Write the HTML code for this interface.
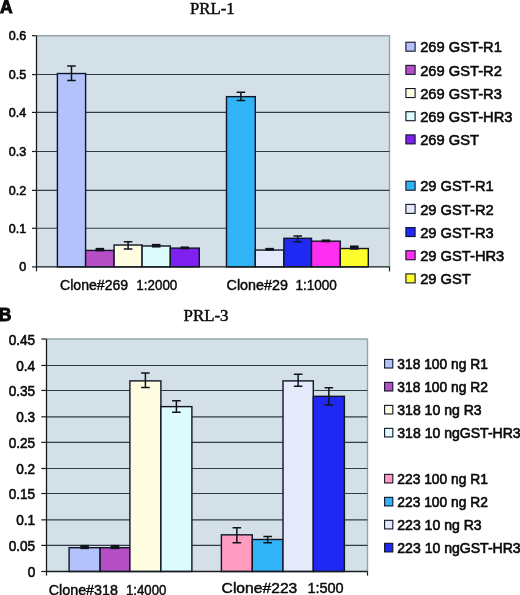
<!DOCTYPE html>
<html><head><meta charset="utf-8"><title>PRL figure</title>
<style>
html,body{margin:0;padding:0;background:#fff;}
body{width:520px;height:595px;overflow:hidden;}
svg{display:block;}
.s{font-family:"Liberation Sans",Arial,Helvetica,sans-serif;fill:#0a0a0a;stroke:#0a0a0a;stroke-width:0.6px;}
.x{font-family:"Liberation Sans",Arial,Helvetica,sans-serif;fill:#0a0a0a;stroke:#0a0a0a;stroke-width:0.45px;}
.t{font-family:"Liberation Serif","Times New Roman",serif;fill:#0a0a0a;stroke:#0a0a0a;stroke-width:0.45px;}
</style></head>
<body>
<svg width="520" height="595" viewBox="0 0 520 595">
<rect width="520" height="595" fill="#fff"/>
<rect x="36.5" y="35.7" width="353" height="231.2" fill="#d4e0e8"/>
<path d="M36.5 35.7H389.5V266.9" fill="none" stroke="#97a3ab" stroke-width="1.4"/>
<line x1="36.5" y1="228.3" x2="389.5" y2="228.3" stroke="#2e3c46" stroke-width="1.1"/>
<line x1="36.5" y1="190.4" x2="389.5" y2="190.4" stroke="#2e3c46" stroke-width="1.1"/>
<line x1="36.5" y1="151.5" x2="389.5" y2="151.5" stroke="#2e3c46" stroke-width="1.1"/>
<line x1="36.5" y1="112.4" x2="389.5" y2="112.4" stroke="#2e3c46" stroke-width="1.1"/>
<line x1="36.5" y1="74.55" x2="389.5" y2="74.55" stroke="#2e3c46" stroke-width="1.1"/>
<rect x="57.4" y="73.53" width="28.2" height="193.37" fill="#b3c2fb" stroke="#101526" stroke-width="1.4"/>
<rect x="85.6" y="250.43" width="28.5" height="16.47" fill="#b64ec6" stroke="#101526" stroke-width="1.4"/>
<rect x="114.1" y="245.03" width="28" height="21.87" fill="#fefde2" stroke="#101526" stroke-width="1.4"/>
<rect x="142.1" y="246" width="28.2" height="20.9" fill="#dcfcfe" stroke="#101526" stroke-width="1.4"/>
<rect x="170.3" y="248.12" width="29" height="18.78" fill="#7e20f0" stroke="#101526" stroke-width="1.4"/>
<rect x="226.5" y="96.65" width="28.8" height="170.25" fill="#31b3f8" stroke="#101526" stroke-width="1.4"/>
<rect x="255.3" y="250.04" width="28.6" height="16.86" fill="#e5eafb" stroke="#101526" stroke-width="1.4"/>
<rect x="283.9" y="238.29" width="27.6" height="28.61" fill="#2029f4" stroke="#101526" stroke-width="1.4"/>
<rect x="311.5" y="241.18" width="28.8" height="25.72" fill="#ff2ef0" stroke="#101526" stroke-width="1.4"/>
<rect x="340.3" y="248.5" width="28" height="18.4" fill="#fefe2c" stroke="#101526" stroke-width="1.4"/>
<path d="M67.2 66H75.8M71.5 66V80.5M67.2 80.5H75.8" stroke="#10141a" stroke-width="1.5" fill="none"/>
<rect x="95.55" y="247.85" width="8.6" height="3.5" fill="#10141a"/>
<path d="M123.8 241.8H132.4M128.1 241.8V249.1M123.8 249.1H132.4" stroke="#10141a" stroke-width="1.5" fill="none"/>
<rect x="151.9" y="243.85" width="8.6" height="3.7" fill="#10141a"/>
<rect x="180.5" y="246.45" width="8.6" height="2.9" fill="#10141a"/>
<path d="M236.6 92.3H245.2M240.9 92.3V100.5M236.6 100.5H245.2" stroke="#10141a" stroke-width="1.5" fill="none"/>
<rect x="265.3" y="247.85" width="8.6" height="2.9" fill="#10141a"/>
<path d="M293.4 236H302M297.7 236V241.7M293.4 241.7H302" stroke="#10141a" stroke-width="1.5" fill="none"/>
<rect x="321.6" y="239.45" width="8.6" height="2.9" fill="#10141a"/>
<rect x="350" y="245.45" width="8.6" height="4.3" fill="#10141a"/>
<path d="M36.5 35.7V266.9H389.5" fill="none" stroke="#161c22" stroke-width="1.3"/>
<line x1="32" y1="35.7" x2="36.5" y2="35.7" stroke="#161c22" stroke-width="1.2"/>
<line x1="32" y1="74.55" x2="36.5" y2="74.55" stroke="#161c22" stroke-width="1.2"/>
<line x1="32" y1="112.4" x2="36.5" y2="112.4" stroke="#161c22" stroke-width="1.2"/>
<line x1="32" y1="151.5" x2="36.5" y2="151.5" stroke="#161c22" stroke-width="1.2"/>
<line x1="32" y1="190.4" x2="36.5" y2="190.4" stroke="#161c22" stroke-width="1.2"/>
<line x1="32" y1="228.3" x2="36.5" y2="228.3" stroke="#161c22" stroke-width="1.2"/>
<line x1="32" y1="266.9" x2="36.5" y2="266.9" stroke="#161c22" stroke-width="1.2"/>
<line x1="36.5" y1="266.9" x2="36.5" y2="271.4" stroke="#161c22" stroke-width="1.2"/>
<line x1="389.5" y1="266.9" x2="389.5" y2="271.4" stroke="#161c22" stroke-width="1.2"/>
<text x="26.2" y="271.2" text-anchor="end" font-size="12.5" class="s">0</text>
<text x="26.2" y="232.6" text-anchor="end" font-size="12.5" class="s">0.1</text>
<text x="26.2" y="194.7" text-anchor="end" font-size="12.5" class="s">0.2</text>
<text x="26.2" y="155.8" text-anchor="end" font-size="12.5" class="s">0.3</text>
<text x="26.2" y="116.7" text-anchor="end" font-size="12.5" class="s">0.4</text>
<text x="26.2" y="78.85" text-anchor="end" font-size="12.5" class="s">0.5</text>
<text x="26.2" y="40" text-anchor="end" font-size="12.5" class="s">0.6</text>
<rect x="46.5" y="339" width="321" height="232.5" fill="#d4e0e8"/>
<path d="M46.5 339H367.5V571.5" fill="none" stroke="#97a3ab" stroke-width="1.4"/>
<line x1="46.5" y1="545.4" x2="367.5" y2="545.4" stroke="#2e3c46" stroke-width="1.1"/>
<line x1="46.5" y1="519.85" x2="367.5" y2="519.85" stroke="#2e3c46" stroke-width="1.1"/>
<line x1="46.5" y1="493.5" x2="367.5" y2="493.5" stroke="#2e3c46" stroke-width="1.1"/>
<line x1="46.5" y1="468.5" x2="367.5" y2="468.5" stroke="#2e3c46" stroke-width="1.1"/>
<line x1="46.5" y1="442.35" x2="367.5" y2="442.35" stroke="#2e3c46" stroke-width="1.1"/>
<line x1="46.5" y1="416.85" x2="367.5" y2="416.85" stroke="#2e3c46" stroke-width="1.1"/>
<line x1="46.5" y1="390.45" x2="367.5" y2="390.45" stroke="#2e3c46" stroke-width="1.1"/>
<line x1="46.5" y1="365.45" x2="367.5" y2="365.45" stroke="#2e3c46" stroke-width="1.1"/>
<rect x="69.1" y="547.71" width="31" height="23.79" fill="#b3c2fb" stroke="#101526" stroke-width="1.4"/>
<rect x="100.1" y="547.71" width="29.8" height="23.79" fill="#b64ec6" stroke="#101526" stroke-width="1.4"/>
<rect x="129.9" y="380.89" width="31" height="190.61" fill="#fefde2" stroke="#101526" stroke-width="1.4"/>
<rect x="160.9" y="406.63" width="31" height="164.87" fill="#dcfcfe" stroke="#101526" stroke-width="1.4"/>
<rect x="221.4" y="534.84" width="30.9" height="36.66" fill="#ff9cc0" stroke="#101526" stroke-width="1.4"/>
<rect x="252.3" y="539.48" width="30.7" height="32.02" fill="#31b3f8" stroke="#101526" stroke-width="1.4"/>
<rect x="283" y="380.89" width="30.3" height="190.61" fill="#e5eafb" stroke="#101526" stroke-width="1.4"/>
<rect x="313.3" y="396.33" width="31.1" height="175.17" fill="#2029f4" stroke="#101526" stroke-width="1.4"/>
<rect x="80.3" y="544.85" width="8.6" height="4.3" fill="#10141a"/>
<rect x="110.7" y="544.85" width="8.6" height="4.3" fill="#10141a"/>
<path d="M141.1 373.1H149.7M145.4 373.1V387.4M141.1 387.4H149.7" stroke="#10141a" stroke-width="1.5" fill="none"/>
<path d="M172.1 400.8H180.7M176.4 400.8V412.3M172.1 412.3H180.7" stroke="#10141a" stroke-width="1.5" fill="none"/>
<path d="M232.55 527.7H241.15M236.85 527.7V542.8M232.55 542.8H241.15" stroke="#10141a" stroke-width="1.5" fill="none"/>
<path d="M263.35 536.5H271.95M267.65 536.5V542.8M263.35 542.8H271.95" stroke="#10141a" stroke-width="1.5" fill="none"/>
<path d="M293.85 374.2H302.45M298.15 374.2V386.2M293.85 386.2H302.45" stroke="#10141a" stroke-width="1.5" fill="none"/>
<path d="M324.55 387.7H333.15M328.85 387.7V404.9M324.55 404.9H333.15" stroke="#10141a" stroke-width="1.5" fill="none"/>
<path d="M46.5 339V571.5H367.5" fill="none" stroke="#161c22" stroke-width="1.3"/>
<line x1="41.3" y1="339" x2="46.5" y2="339" stroke="#161c22" stroke-width="1.2"/>
<line x1="41.3" y1="365.45" x2="46.5" y2="365.45" stroke="#161c22" stroke-width="1.2"/>
<line x1="41.3" y1="390.45" x2="46.5" y2="390.45" stroke="#161c22" stroke-width="1.2"/>
<line x1="41.3" y1="416.85" x2="46.5" y2="416.85" stroke="#161c22" stroke-width="1.2"/>
<line x1="41.3" y1="442.35" x2="46.5" y2="442.35" stroke="#161c22" stroke-width="1.2"/>
<line x1="41.3" y1="468.5" x2="46.5" y2="468.5" stroke="#161c22" stroke-width="1.2"/>
<line x1="41.3" y1="493.5" x2="46.5" y2="493.5" stroke="#161c22" stroke-width="1.2"/>
<line x1="41.3" y1="519.85" x2="46.5" y2="519.85" stroke="#161c22" stroke-width="1.2"/>
<line x1="41.3" y1="545.4" x2="46.5" y2="545.4" stroke="#161c22" stroke-width="1.2"/>
<line x1="41.3" y1="571.5" x2="46.5" y2="571.5" stroke="#161c22" stroke-width="1.2"/>
<line x1="46.5" y1="571.5" x2="46.5" y2="575.6" stroke="#161c22" stroke-width="1.2"/>
<line x1="367.5" y1="571.5" x2="367.5" y2="575.6" stroke="#161c22" stroke-width="1.2"/>
<text x="35.2" y="577" text-anchor="end" font-size="14.6" class="s" textLength="7.56" lengthAdjust="spacingAndGlyphs">0</text>
<text x="35.2" y="550.9" text-anchor="end" font-size="14.6" class="s" textLength="26.47" lengthAdjust="spacingAndGlyphs">0.05</text>
<text x="35.2" y="525.35" text-anchor="end" font-size="14.6" class="s" textLength="18.91" lengthAdjust="spacingAndGlyphs">0.1</text>
<text x="35.2" y="499" text-anchor="end" font-size="14.6" class="s" textLength="26.47" lengthAdjust="spacingAndGlyphs">0.15</text>
<text x="35.2" y="474" text-anchor="end" font-size="14.6" class="s" textLength="18.91" lengthAdjust="spacingAndGlyphs">0.2</text>
<text x="35.2" y="447.85" text-anchor="end" font-size="14.6" class="s" textLength="26.47" lengthAdjust="spacingAndGlyphs">0.25</text>
<text x="35.2" y="422.35" text-anchor="end" font-size="14.6" class="s" textLength="18.91" lengthAdjust="spacingAndGlyphs">0.3</text>
<text x="35.2" y="395.95" text-anchor="end" font-size="14.6" class="s" textLength="26.47" lengthAdjust="spacingAndGlyphs">0.35</text>
<text x="35.2" y="370.95" text-anchor="end" font-size="14.6" class="s" textLength="18.91" lengthAdjust="spacingAndGlyphs">0.4</text>
<text x="35.2" y="344.5" text-anchor="end" font-size="14.6" class="s" textLength="26.47" lengthAdjust="spacingAndGlyphs">0.45</text>
<rect x="405.9" y="42.2" width="9.2" height="9" fill="#b3c2fb" stroke="#101526" stroke-width="1.1"/>
<text x="420.2" y="52.4" font-size="14.7" class="s">269 GST-R1</text>
<rect x="405.9" y="65.37" width="9.2" height="9" fill="#b64ec6" stroke="#101526" stroke-width="1.1"/>
<text x="420.2" y="75.57" font-size="14.7" class="s">269 GST-R2</text>
<rect x="405.9" y="88.54" width="9.2" height="9" fill="#fefde2" stroke="#101526" stroke-width="1.1"/>
<text x="420.2" y="98.74" font-size="14.7" class="s">269 GST-R3</text>
<rect x="405.9" y="111.71" width="9.2" height="9" fill="#dcfcfe" stroke="#101526" stroke-width="1.1"/>
<text x="420.2" y="121.91" font-size="14.7" class="s">269 GST-HR3</text>
<rect x="405.9" y="134.88" width="9.2" height="9" fill="#7e20f0" stroke="#101526" stroke-width="1.1"/>
<text x="420.2" y="145.08" font-size="14.7" class="s">269 GST</text>
<rect x="405.9" y="181.22" width="9.2" height="9" fill="#31b3f8" stroke="#101526" stroke-width="1.1"/>
<text x="420.2" y="191.42" font-size="14.7" class="s">29 GST-R1</text>
<rect x="405.9" y="204.39" width="9.2" height="9" fill="#e5eafb" stroke="#101526" stroke-width="1.1"/>
<text x="420.2" y="214.59" font-size="14.7" class="s">29 GST-R2</text>
<rect x="405.9" y="227.56" width="9.2" height="9" fill="#2029f4" stroke="#101526" stroke-width="1.1"/>
<text x="420.2" y="237.76" font-size="14.7" class="s">29 GST-R3</text>
<rect x="405.9" y="250.73" width="9.2" height="9" fill="#ff2ef0" stroke="#101526" stroke-width="1.1"/>
<text x="420.2" y="260.93" font-size="14.7" class="s">29 GST-HR3</text>
<rect x="405.9" y="273.9" width="9.2" height="9" fill="#fefe2c" stroke="#101526" stroke-width="1.1"/>
<text x="420.2" y="284.1" font-size="14.7" class="s">29 GST</text>
<rect x="384.6" y="359.4" width="8.2" height="8.6" fill="#b3c2fb" stroke="#101526" stroke-width="1.1"/>
<text x="397.3" y="368.6" font-size="13.8" class="s">318 100 ng R1</text>
<rect x="384.6" y="382.39" width="8.2" height="8.6" fill="#b64ec6" stroke="#101526" stroke-width="1.1"/>
<text x="397.3" y="391.59" font-size="13.8" class="s">318 100 ng R2</text>
<rect x="384.6" y="405.38" width="8.2" height="8.6" fill="#fefde2" stroke="#101526" stroke-width="1.1"/>
<text x="397.3" y="414.58" font-size="13.8" class="s" textLength="84.3" lengthAdjust="spacingAndGlyphs">318 10 ng R3</text>
<rect x="384.6" y="428.37" width="8.2" height="8.6" fill="#dcfcfe" stroke="#101526" stroke-width="1.1"/>
<text x="397.3" y="437.57" font-size="13.8" class="s" textLength="123.4" lengthAdjust="spacingAndGlyphs">318 10 ngGST-HR3</text>
<rect x="384.6" y="474.35" width="8.2" height="8.6" fill="#ff9cc0" stroke="#101526" stroke-width="1.1"/>
<text x="397.3" y="483.55" font-size="13.8" class="s">223 100 ng R1</text>
<rect x="384.6" y="497.34" width="8.2" height="8.6" fill="#31b3f8" stroke="#101526" stroke-width="1.1"/>
<text x="397.3" y="506.54" font-size="13.8" class="s">223 100 ng R2</text>
<rect x="384.6" y="520.33" width="8.2" height="8.6" fill="#e5eafb" stroke="#101526" stroke-width="1.1"/>
<text x="397.3" y="529.53" font-size="13.8" class="s" textLength="84.3" lengthAdjust="spacingAndGlyphs">223 10 ng R3</text>
<rect x="384.6" y="543.32" width="8.2" height="8.6" fill="#2029f4" stroke="#101526" stroke-width="1.1"/>
<text x="397.3" y="552.52" font-size="13.8" class="s" textLength="123.4" lengthAdjust="spacingAndGlyphs">223 10 ngGST-HR3</text>
<text x="0" y="12.7" font-size="17.5" font-weight="bold" class="s" style="stroke-width:0.9px">A</text>
<text x="-1.3" y="321.3" font-size="17.5" font-weight="bold" class="s" style="stroke-width:0.9px">B</text>
<text x="190" y="14.2" font-size="16.5" class="t" textLength="44.6" lengthAdjust="spacingAndGlyphs">PRL-1</text>
<text x="183.5" y="320.8" font-size="16" class="t" textLength="45" lengthAdjust="spacingAndGlyphs">PRL-3</text>
<text x="60" y="289.8" font-size="14.5" class="x" textLength="68.2" lengthAdjust="spacingAndGlyphs">Clone#269</text>
<text x="136.3" y="289.8" font-size="14.5" class="x" textLength="41" lengthAdjust="spacingAndGlyphs">1:2000</text>
<text x="226.6" y="289.8" font-size="14.5" class="x" textLength="61.3" lengthAdjust="spacingAndGlyphs">Clone#29</text>
<text x="295.5" y="289.8" font-size="14.5" class="x" textLength="41.4" lengthAdjust="spacingAndGlyphs">1:1000</text>
<text x="48.75" y="595" font-size="14.5" class="x" textLength="69.2" lengthAdjust="spacingAndGlyphs">Clone#318</text>
<text x="126" y="595" font-size="14.5" class="x" textLength="40.4" lengthAdjust="spacingAndGlyphs">1:4000</text>
<text x="221.6" y="593.2" font-size="14.5" class="x" textLength="75.7" lengthAdjust="spacingAndGlyphs">Clone#223</text>
<text x="307.4" y="593.2" font-size="14.5" class="x" textLength="36.3" lengthAdjust="spacingAndGlyphs">1:500</text>
</svg>
</body></html>
